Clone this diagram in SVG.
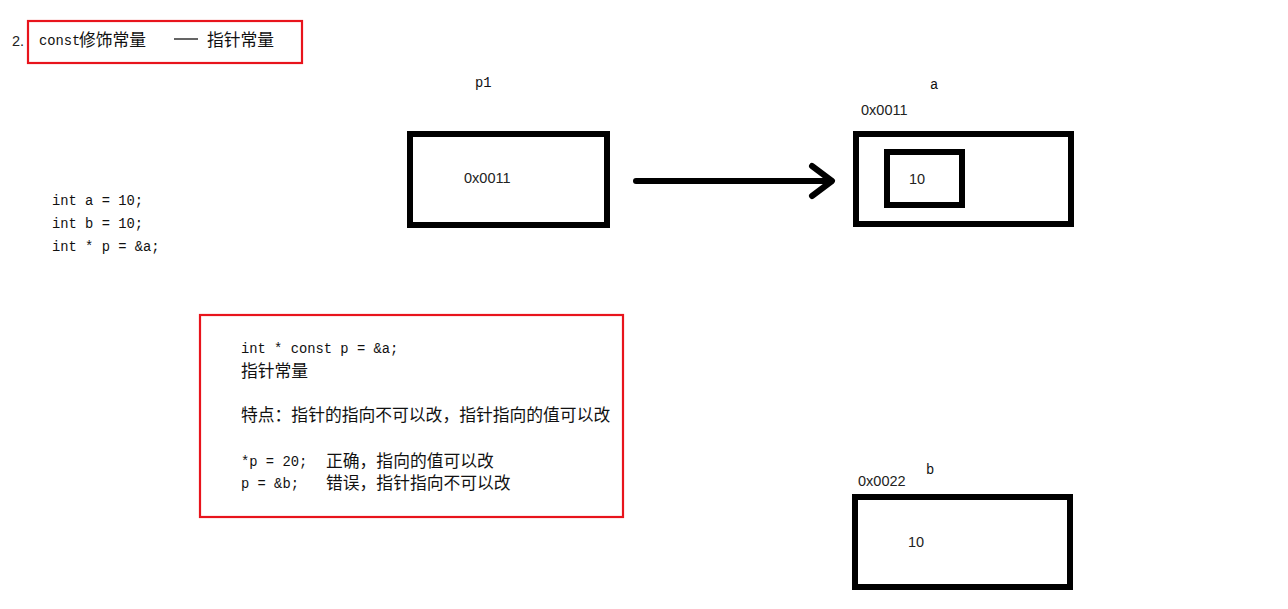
<svg xmlns="http://www.w3.org/2000/svg" width="1288" height="609" viewBox="0 0 1288 609">
<style>
.bg{fill:#fff}
.red{fill:none;stroke:#e8141c;stroke-width:2.2}
.box{fill:none;stroke:#000;stroke-width:6}
.mono{font-family:"Liberation Mono","Noto Sans CJK SC",monospace;font-size:13.8px;fill:#111}
.cjk{font-family:"Noto Sans CJK SC","Noto Sans",sans-serif;font-size:16.8px;fill:#111}
.sans{font-family:"Liberation Sans","Noto Sans CJK SC",sans-serif;font-size:14.5px;fill:#222}
.conn{fill:none;stroke:#000;stroke-width:6;stroke-linecap:round;stroke-linejoin:round}
</style>
<rect class="bg" width="1288" height="609"/>

<g id="title">
  <text class="sans" x="12" y="46" font-size="14">2.</text>
  <rect class="red" x="28" y="21" width="274" height="42"/>
  <text class="mono" x="39" y="45" font-size="13">const</text>
  <text class="cjk" x="79" y="46">修饰常量</text>
  <line x1="174" y1="39" x2="198" y2="39" stroke="#111" stroke-width="1.3"/>
  <text class="cjk" x="207" y="46">指针常量</text>
</g>

<g id="code">
  <text class="mono" x="52" y="205">int a = 10;</text>
  <text class="mono" x="52" y="228">int b = 10;</text>
  <text class="mono" x="52" y="251">int * p = &amp;a;</text>
</g>

<g id="node-p1">
  <text class="mono" x="475" y="87" font-size="13">p1</text>
  <rect class="box" x="410" y="134" width="197" height="91"/>
  <text class="sans" x="464" y="183">0x0011</text>
</g>

<g id="node-a">
  <text class="mono" x="930" y="89" font-size="13">a</text>
  <text class="sans" x="861" y="115">0x0011</text>
  <rect class="box" x="856" y="134" width="215" height="90"/>
  <rect class="box" x="887" y="152" width="75" height="53"/>
  <text class="sans" x="909" y="184" font-size="15">10</text>
</g>

<g id="node-b">
  <text class="mono" x="926" y="474" font-size="13">b</text>
  <text class="sans" x="858" y="486">0x0022</text>
  <rect class="box" x="855" y="497" width="215" height="90"/>
  <text class="sans" x="908" y="547" font-size="15">10</text>
</g>

<g id="note">
  <rect class="red" x="200" y="315" width="423" height="202"/>
  <text class="mono" x="241" y="353">int * const p = &amp;a;</text>
  <text class="cjk" x="241" y="377">指针常量</text>
  <text class="cjk" x="241" y="421">特点：指针的指向不可以改，指针指向的值可以改</text>
  <text class="mono" x="241" y="466">*p = 20;</text>
  <text class="cjk" x="326" y="467">正确，指向的值可以改</text>
  <text class="mono" x="241" y="488">p = &amp;b;</text>
  <text class="cjk" x="326" y="489">错误，指针指向不可以改</text>
</g>

<g id="connectors">
  <line class="conn" x1="636" y1="181" x2="831" y2="181"/>
  <polyline class="conn" points="812,166 832,181 812,196"/>
</g>
</svg>
